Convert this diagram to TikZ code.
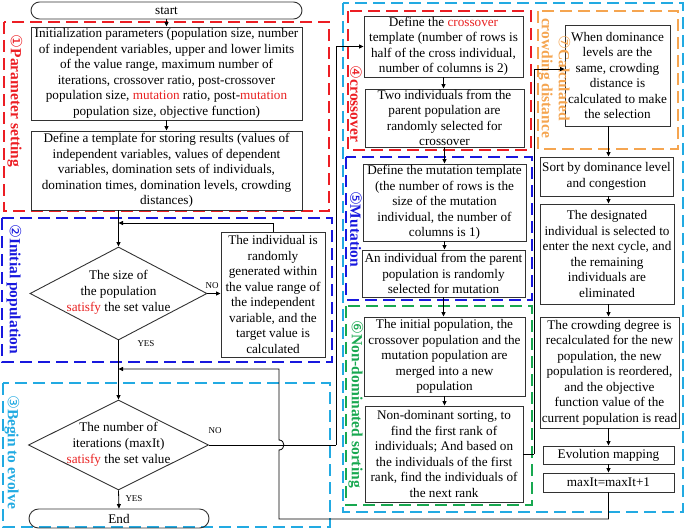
\documentclass[tikz,border=0pt]{standalone}
\usepackage{fontspec}
\setmainfont{Liberation Serif}
\newfontfamily\symf{DejaVu Sans}
\usetikzlibrary{shapes.geometric,arrows.meta}
\definecolor{hlred}{RGB}{232,32,32}
\definecolor{fred}{RGB}{236,30,36}
\definecolor{fblue}{RGB}{24,24,222}
\definecolor{fcyan}{RGB}{34,170,226}
\definecolor{forange}{RGB}{245,165,80}
\definecolor{fgreen}{RGB}{24,168,80}
\definecolor{boxgray}{RGB}{50,50,50}
\newcommand\hl[1]{\textcolor{hlred}{#1}}
\tikzset{
  box/.style={draw=boxgray, line width=0.9pt, align=center, inner sep=0.3pt,
    font=\fontsize{13.2}{15.5}\selectfont},
  term/.style={box},
  dia/.style={draw=boxgray, line width=0.9pt, diamond, inner sep=0pt},
  diatext/.style={align=center, inner sep=0pt, font=\fontsize{13.2}{15.8}\selectfont},
  frame/.style={line width=1.8pt, dash pattern=on 12pt off 6pt},
  lab/.style={rotate=-90, align=center, inner sep=0pt,
    font=\fontsize{15.5}{17}\selectfont\bfseries},
  arr/.style={line width=0.8pt, -{Triangle[length=4.5pt,width=4pt]}},
  line/.style={line width=0.8pt},
  yn/.style={inner sep=0pt, font=\fontsize{9}{10}\selectfont}
}
\begin{document}
\begin{tikzpicture}[x=1pt,y=-1pt]
\useasboundingbox (0,0) rectangle (685,530);
% frames
\draw[frame, fred] (4,22) rectangle (329,211);
\draw[frame, fblue] (2,218) rectangle (332,362);
\draw[frame, fcyan] (3,383) rectangle (330,527);
\draw[frame, fcyan] (343,3) rectangle (683,512);
\draw[frame, fred] (348,11) rectangle (531,150);
\draw[frame, forange] (538,11) rectangle (678,149);
\draw[frame, fblue] (346,157) rectangle (532,300);
\draw[frame, fgreen] (346,306) rectangle (532,505);

% left column
\node[term, minimum width=271pt, minimum height=17pt, rounded corners=8.5pt] (start) at (166.5,10.5) {start};
\node[box, minimum width=271pt, minimum height=93pt] (init) at (166.5,73.5)
 {Initialization parameters (population size, number\\ of independent variables, upper and lower limits\\ of the value range, maximum number of\\ iterations, crossover ratio, post-crossover\\ population size, \hl{mutation} ratio, post-\hl{mutation}\\ population size, objective function)};
\node[box, minimum width=271pt, minimum height=79pt] (tmpl) at (166.5,170.5)
 {Define a template for storing results (values of\\ independent variables, values of dependent\\ variables, domination sets of individuals,\\ domination times, domination levels, crowding\\ distances)};
\node[dia, minimum width=177pt, minimum height=93pt] (d1) at (118.5,293.5) {};
\node[diatext] (d1t) at (118.5,292) {The size of\\ the population\\ \hl{satisfy} the set value};
\node[box, minimum width=104pt, minimum height=125pt] (rand) at (273,294.5)
 {The individual is\\ randomly\\ generated within\\ the value range of\\ the independent\\ variable, and the\\ target value is\\ calculated};
\node[dia, minimum width=180pt, minimum height=90pt] (d2) at (118.5,445) {};
\node[diatext] (d2t) at (118.5,444.5) {The number of\\ iterations (maxIt)\\ \hl{satisfy} the set value};
\node[term, minimum width=180pt, minimum height=19pt, rounded corners=9.5pt] (end) at (119,518.5) {End};

% middle column
\node[box, minimum width=159pt, minimum height=61pt] (cross) at (443.5,46.5)
 {Define the \hl{crossover}\\ template (number of rows is\\ half of the cross individual,\\ number of columns is 2)};
\node[box, minimum width=159pt, minimum height=58pt] (two) at (444.5,118)
 {Two individuals from the\\ parent population are\\ randomly selected for\\ crossover};
\node[box, minimum width=163pt, minimum height=77pt] (mut) at (444.5,202.5)
 {Define the mutation template\\ (the number of rows is the\\ size of the mutation\\ individual, the number of\\ columns is 1)};
\node[box, minimum width=163pt, minimum height=47pt] (ind) at (443.5,273.5)
 {An individual from the parent\\ population is randomly\\ selected for mutation};
\node[box, minimum width=161pt, minimum height=79pt] (initp) at (444.5,356.5)
 {The initial population, the\\ crossover population and the\\ mutation population are\\ merged into a new\\ population};
\node[box, minimum width=158pt, minimum height=96pt] (nond) at (444,454)
 {Non-dominant sorting, to\\ find the first rank of\\ individuals; And based on\\ the individuals of the first\\ rank, find the individuals of\\ the next rank};

% right column
\node[box, minimum width=105pt, minimum height=101pt] (dom) at (617.5,75.5)
 {When dominance\\ levels are the\\ same, crowding\\ distance is\\ calculated to make\\ the selection};
\node[box, minimum width=133pt, minimum height=39pt] (sort) at (606.5,176.5)
 {Sort by dominance level\\ and congestion};
\node[box, minimum width=134pt, minimum height=100pt] (desig) at (607,254)
 {The designated\\ individual is selected to\\ enter the next cycle, and\\ the remaining\\ individuals are\\ eliminated};
\node[box, minimum width=139pt, minimum height=111pt] (crowd) at (609.5,372.5)
 {The crowding degree is\\ recalculated for the new\\ population, the new\\ population is reordered,\\ and the objective\\ function value of the\\ current population is read};
\node[box, minimum width=131pt, minimum height=18pt] (evo) at (608.5,455) {Evolution mapping};
\node[box, minimum width=131pt, minimum height=19pt] (maxit) at (608.5,482.5) {maxIt=maxIt+1};

% labels
\node[lab, text=fred] (l1) at (15,101) {{\mdseries\symf ①}Parameter setting};
\node[lab, text=fblue] (l2) at (14,289) {{\mdseries\symf ②}Initial population};
\node[lab, text=fcyan] (l3) at (12,452) {{\mdseries\symf ③}Begin to evolve};
\node[lab, text=fred] (l4) at (356,104) {{\mdseries\symf ④}crossover};
\node[lab, text=fblue] (l5) at (356,229) {{\mdseries\symf ⑤}Mutation};
\node[lab, text=fgreen] (l6) at (356,404) {{\mdseries\symf ⑥}Non-dominated sorting};
\node[lab, text=forange] (l7) at (554.5,78) {{\mdseries\symf ⑦}Calculated\\ crowding distance};

% coordinates
\coordinate (j1) at (118.5,223);
\coordinate (j2) at (118.5,369);
\coordinate (n1) at (336,445);
\coordinate (m1) at (534,454);
\coordinate (k1) at (279,519);
\coordinate (kj) at (279,445);

% connectors left
\draw[arr] (start) -- (init);
\draw[arr] (init) -- (tmpl);
\draw[arr] (tmpl.south -| d1.north) -- (d1.north);
\draw[arr] (d1.east) -- (d1.east -| rand.west);
\node[yn] (no1) at (212,286) {NO};
\draw[arr] (rand.north) |- (j1);
\draw[arr] (d1.south) -- (d2.north);
\node[yn] (yes1) at (146,344) {YES};
\draw[line] (d2.east) -- (n1);
\draw[arr] (n1) |- (cross.west);
\node[yn] (no2) at (215,431) {NO};
\draw[arr] (d2.south) -- (end.north);
\node[yn] (yes2) at (134,499) {YES};
% loop from maxIt
\draw[arr] (maxit.south) |- (k1) -- ([yshift=-5pt]kj)
  .. controls ([xshift=6.5pt,yshift=-5pt]kj) and ([xshift=6.5pt,yshift=5pt]kj) .. ([yshift=5pt]kj)
  -- (j2 -| k1) -- (j2);

% connectors middle
\draw[arr] (cross.south) -- (cross.south |- two.north);
\draw[arr] (two.south) -- (two.south |- mut.north);
\draw[arr] (mut.south) -- (mut.south |- ind.north);
\draw[arr] (ind.south) -- (ind.south |- initp.north);
\draw[arr] (initp.south) -- (initp.south |- nond.north);
\draw[line] (nond.east) -- (m1);
\draw[arr] (m1) |- ([yshift=6.5pt]dom.west);

% connectors right
\draw[arr] (dom.south -| evo.north) -- (sort.north -| evo.north);
\draw[arr] (sort.south -| evo.north) -- (desig.north -| evo.north);
\draw[arr] (desig.south -| evo.north) -- (crowd.north -| evo.north);
\draw[arr] (crowd.south -| evo.north) -- (evo.north);
\draw[arr] (evo.south) -- (maxit.north);
\end{tikzpicture}
\end{document}
